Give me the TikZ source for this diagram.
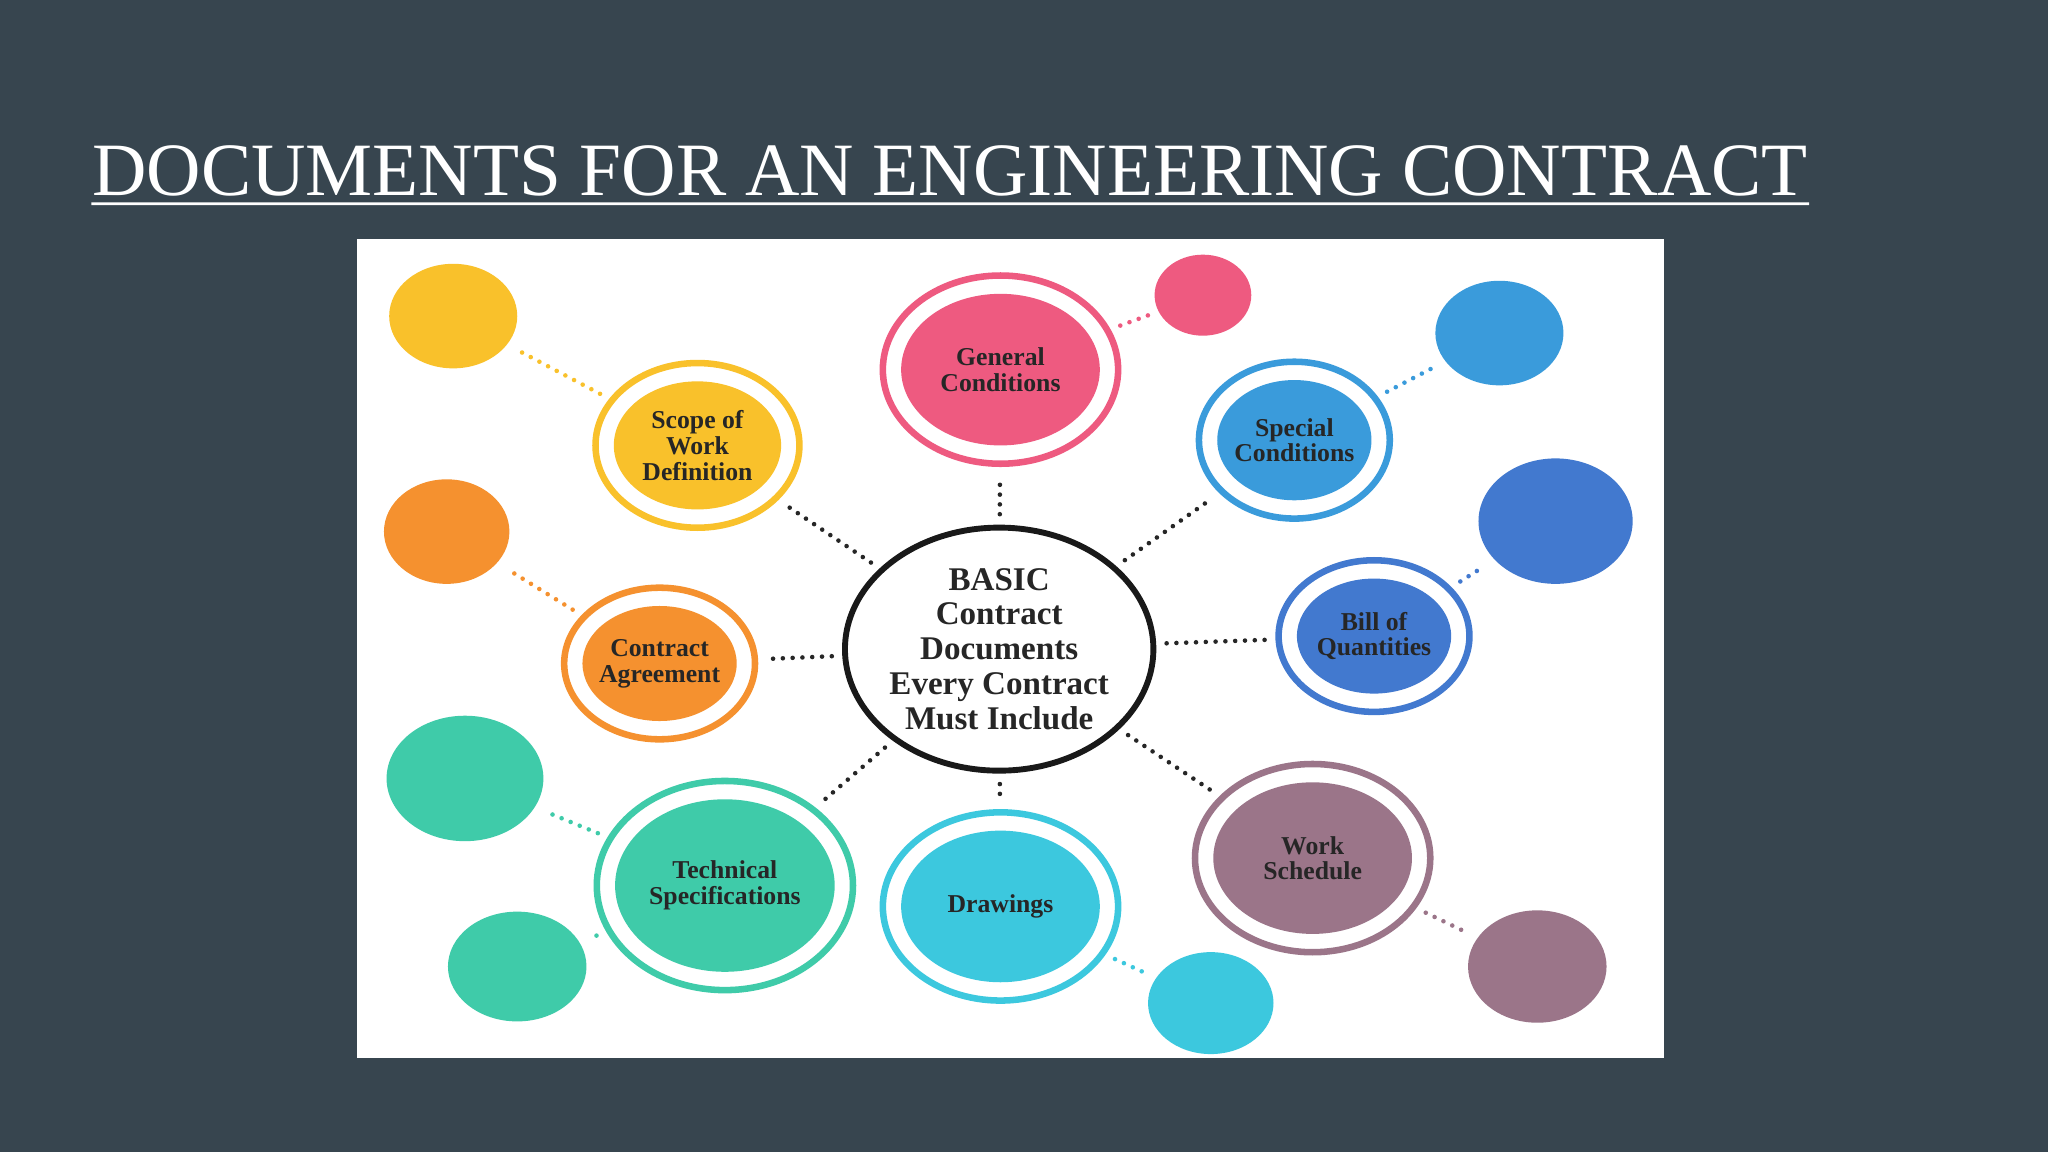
\documentclass[tikz,border=0pt]{standalone}
\usepackage{fontspec}
\setmainfont{Liberation Serif}
\usetikzlibrary{shapes.geometric}
\definecolor{bg}{HTML}{37454F}
\definecolor{cpink}{HTML}{EE5A80}
\definecolor{cblue}{HTML}{3A9BDB}
\definecolor{cdblue}{HTML}{4279CF}
\definecolor{cmauve}{HTML}{9B7589}
\definecolor{ccyan}{HTML}{3CC8DE}
\definecolor{cteal}{HTML}{3FCBA9}
\definecolor{corange}{HTML}{F5912F}
\definecolor{cyellow}{HTML}{F9C12B}
\tikzset{
  x=0.01cm,y=-0.01cm,
  ring/.style={ellipse,draw=#1,line width=0.05cm,fill=white,inner sep=0pt},
  core/.style={ellipse,fill=#1,inner sep=-3pt,align=center,font=\fontsize{5.6}{5.6}\selectfont\bfseries,text=black!85},
  blob/.style={ellipse,fill=#1,inner sep=0pt},
  dots/.style={draw=#1,line width=0.035cm,line cap=round,dash pattern=on 0pt off 0.075cm,shorten <=0.08cm,shorten >=0.08cm},
}
\newcommand{\bub}[7]{%
  \node[ring=#6,minimum width=#4*0.02cm,minimum height=#5*0.02cm] (#1) at (#2,#3) {};
  \node[core=#6,minimum width=(#4-14)*0.02cm,minimum height=(#5-14)*0.02cm] (#1i) at (#2,#3) {#7};}
\begin{document}
\begin{tikzpicture}
\fill[bg] (0,0) rectangle (1568,882);
\useasboundingbox (0,0) rectangle (1568,882);
\fill[white] (273,183) rectangle (1274,810);
\node[anchor=base west,text=white,inner sep=0pt,font=\fontsize{16.4}{17}\selectfont] (title) at (70,150) {DOCUMENTS FOR AN ENGINEERING CONTRACT};
\draw[white,line width=0.02cm] (title.base west)++(0,6) -- ([yshift=-0.06cm]title.base east);
% center
\node[ellipse,draw=black!90,line width=0.045cm,fill=white,minimum width=2.36cm,minimum height=1.86cm,inner sep=-6pt,align=center,font=\fontsize{7.2}{7.6}\selectfont\bfseries,text=black!85] (c) at (765,497) {BASIC\\Contract\\Documents\\Every Contract\\Must Include};
\bub{gc}{766}{283}{90}{72}{cpink}{General\\Conditions}
\bub{sc}{991}{337}{73}{60}{cblue}{Special\\Conditions}
\bub{bq}{1052}{487}{73}{58}{cdblue}{Bill of\\Quantities}
\bub{ws}{1005}{657}{90}{72}{cmauve}{Work\\Schedule}
\bub{dr}{766}{694}{90}{72}{ccyan}{Drawings}
\bub{ts}{555}{678}{98}{80}{cteal}{Technical\\Specifications}
\bub{ca}{505}{508}{73}{58}{corange}{Contract\\Agreement}
\bub{sw}{534}{341}{78}{63}{cyellow}{Scope of\\Work\\Definition}
% small blobs
\node[blob=cpink,minimum width=0.74cm,minimum height=0.62cm] (s1) at (921,226) {};
\node[blob=cblue,minimum width=0.98cm,minimum height=0.80cm] (s2) at (1148,255) {};
\node[blob=cdblue,minimum width=1.18cm,minimum height=0.96cm] (s3) at (1191,399) {};
\node[blob=cmauve,minimum width=1.06cm,minimum height=0.86cm] (s4) at (1177,740) {};
\node[blob=ccyan,minimum width=0.96cm,minimum height=0.78cm] (s5) at (927,768) {};
\node[blob=cteal,minimum width=1.2cm,minimum height=0.96cm] (s6) at (356,596) {};
\node[blob=cteal,minimum width=1.06cm,minimum height=0.84cm] (s7) at (396,740) {};
\node[blob=corange,minimum width=0.96cm,minimum height=0.80cm] (s8) at (342,407) {};
\node[blob=cyellow,minimum width=0.98cm,minimum height=0.80cm] (s9) at (347,242) {};
% connectors
\foreach \n in {gc,sc,bq,ws,dr,ts,ca,sw} \draw[dots=black!85] (c) -- (\n);
\draw[dots=cpink] (gc) -- (s1);
\draw[dots=cblue] (sc) -- (s2);
\draw[dots=cdblue] (bq) -- (s3);
\draw[dots=cmauve] (ws) -- (s4);
\draw[dots=ccyan] (dr) -- (s5);
\draw[dots=cteal] (ts) -- (s6);
\draw[dots=cteal] (ts) -- (s7);
\draw[dots=corange] (ca) -- (s8);
\draw[dots=cyellow] (sw) -- (s9);
\end{tikzpicture}
\end{document}
